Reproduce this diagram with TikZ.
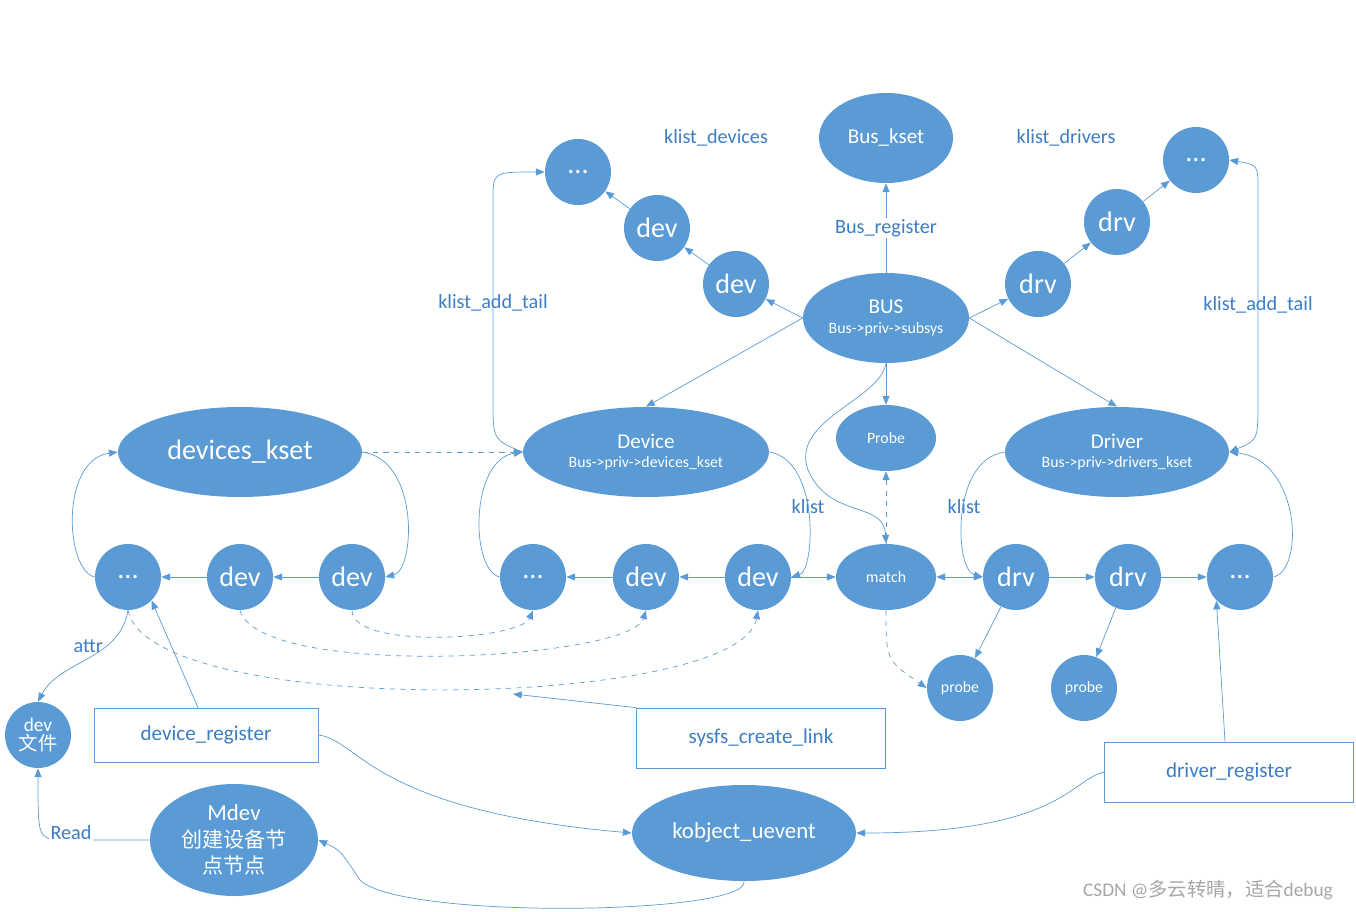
\documentclass[tikz,border=0pt]{standalone}
\usepackage{fontspec}
\setmainfont{Carlito}
\newfontfamily\cjk{Noto Sans CJK SC}
\usetikzlibrary{arrows.meta,shapes.geometric}
\definecolor{bf}{HTML}{5B9BD5}
\definecolor{tx}{HTML}{3C7DC4}
\begin{document}
\begin{tikzpicture}[x=0.02cm,y=-0.02cm,
 el/.style={ellipse,fill=bf,text=white,inner sep=0,align=center},
 ci/.style={circle,fill=bf,text=white,minimum size=66*0.02cm,inner sep=0,font=\fontsize{16}{18}\selectfont},
 bx/.style={draw=bf,text=tx,font=\fontsize{12}{14}\selectfont,inner sep=0},
 lb/.style={text=tx,font=\fontsize{11.5}{13}\selectfont},
 ar/.style={draw=bf,-{Triangle[length=5pt,width=4pt]}},
 ln/.style={draw=bf},
 da/.style={ar,dashed}]
\useasboundingbox (0,0) rectangle (1356,912);
% ellipses
\node[el,minimum width=134*0.02cm,minimum height=90*0.02cm,font=\fontsize{12}{14}\selectfont] (bk) at (886,138) {Bus\_kset};
\node[el,minimum width=166*0.02cm,minimum height=90*0.02cm] (bus) at (886,318) {{\fontsize{12}{14}\selectfont BUS}\\[-1pt]{\fontsize{9}{11}\selectfont Bus->priv->subsys}};
\node[el,minimum width=246*0.02cm,minimum height=90*0.02cm] (devc) at (646,452) {{\fontsize{12}{14}\selectfont Device}\\[-1pt]{\fontsize{9}{11}\selectfont Bus->priv->devices\_kset}};
\node[el,minimum width=224*0.02cm,minimum height=90*0.02cm] (drvr) at (1117,452) {{\fontsize{12}{14}\selectfont Driver}\\[-1pt]{\fontsize{9}{11}\selectfont Bus->priv->drivers\_kset}};
\node[el,minimum width=100*0.02cm,minimum height=66*0.02cm,font=\fontsize{9}{11}\selectfont] (probe) at (886,438) {Probe};
\node[el,minimum width=100*0.02cm,minimum height=66*0.02cm,font=\fontsize{9}{11}\selectfont] (match) at (886,577) {match};
\node[el,minimum width=244*0.02cm,minimum height=90*0.02cm,font=\fontsize{16}{18}\selectfont] (dk) at (240,452) {devices\_kset};
\node[el,minimum width=168*0.02cm,minimum height=112*0.02cm,font=\fontsize{13}{15}\selectfont] (mdev) at (234,840) {Mdev\\{\cjk\fontsize{12}{14}\selectfont 创建设备节}\\{\cjk\fontsize{12}{14}\selectfont 点节点}};
\node[el,minimum width=224*0.02cm,minimum height=96*0.02cm,font=\fontsize{13}{15}\selectfont] (ku) at (744,833) {kobject\_uevent};
% circles
\node[ci] (t1) at (578,172) {...};
\node[ci] (t2) at (657,228) {dev};
\node[ci] (t3) at (736,284) {dev};
\node[ci] (r1) at (1038,284) {drv};
\node[ci] (r2) at (1117,222) {drv};
\node[ci] (r3) at (1196,160) {...};
\node[ci] (a1) at (128,577) {...};
\node[ci] (a2) at (240,577) {dev};
\node[ci] (a3) at (352,577) {dev};
\node[ci] (b1) at (533,577) {...};
\node[ci] (b2) at (646,577) {dev};
\node[ci] (b3) at (758,577) {dev};
\node[ci] (c1) at (1016,577) {drv};
\node[ci] (c2) at (1128,577) {drv};
\node[ci] (c3) at (1240,577) {...};
\node[ci,font=\fontsize{9}{11}\selectfont] (p1) at (960,688) {probe};
\node[ci,font=\fontsize{9}{11}\selectfont] (p2) at (1084,688) {probe};
\node[ci,font=\fontsize{11}{13}\selectfont,align=center] (df) at (38,735) {dev\\[-2pt]{\cjk 文件}};
% boxes
\node[bx,minimum width=224*0.02cm,minimum height=54*0.02cm] (dr) at (206,735) {device\_register};
\node[bx,minimum width=249*0.02cm,minimum height=60*0.02cm] (sl) at (761,738) {sysfs\_create\_link};
\node[bx,minimum width=249*0.02cm,minimum height=60*0.02cm] (vr) at (1229,772) {driver\_register};
% labels
\node[lb] (l1) at (716,138) {klist\_devices};
\node[lb] (l2) at (1066,138) {klist\_drivers};
\node[lb] (l4) at (493,303) {klist\_add\_tail};
\node[lb] (l5) at (1258,305) {klist\_add\_tail};
\node[lb] (l6) at (808,507) {klist};
\node[lb] (l7) at (964,507) {klist};
\node[text=gray!70,font=\fontsize{11}{13}\selectfont] (wm) at (1208,890) {CSDN @{\cjk 多云转晴，适合}debug};
% connectors
\draw[ar] (bus) -- node[fill=white,lb,inner sep=1pt] {Bus\_register} (bk);
\draw[ar] (bus.west) -- (t3);
\draw[ar] (t3) -- (t2);
\draw[ar] (t2) -- (t1);
\draw[ar] (bus.east) -- (r1);
\draw[ar] (r1) -- (r2);
\draw[ar] (r2) -- (r3);
\draw[ar] (bus.west) -- (devc.north);
\draw[ar] (bus.east) -- (drvr.north);
\draw[ar] (bus) -- (probe);
\draw[ar] (bus.south) .. controls (880,400) and (790,420) .. (808,470) .. controls (830,520) and (884,500) .. (match.north);
\draw[da,{Triangle[length=5pt,width=4pt]}-] (probe) -- (match);
\draw[ar] (devc.west) .. controls (493,440) .. (493,400) -- (493,200) .. controls (493,172) .. (t1.west);
\draw[ar,{Triangle[length=5pt,width=4pt]}-{Triangle[length=5pt,width=4pt]}] (drvr.east) .. controls (1258,440) .. (1258,400) -- (1258,190) .. controls (1258,165) .. (r3.east);
\draw[da] (dk.east) -- (devc.west);
\draw[ar] (dk.east) .. controls (420,460) and (415,570) .. (a3.east);
\draw[ar] (a1.west) .. controls (65,570) and (60,460) .. (dk.west);
\draw[ar] (a3) -- (a2);
\draw[ar] (a2) -- (a1);
\draw[ar] (devc.east) .. controls (820,460) and (815,570) .. (b3.east);
\draw[ar] (b1.west) .. controls (470,570) and (470,460) .. (devc.west);
\draw[ar] (b3) -- (b2);
\draw[ar] (b2) -- (b1);
\draw[ar] (b3) -- (match);
\draw[ar,{Triangle[length=5pt,width=4pt]}-{Triangle[length=5pt,width=4pt]}] (match) -- (c1);
\draw[ar] (c1) -- (c2);
\draw[ar] (c2) -- (c3);
\draw[ar] (drvr.west) .. controls (950,460) and (955,570) .. (c1.west);
\draw[ar] (c3.east) .. controls (1305,570) and (1300,460) .. (drvr.east);
\draw[ar] (c1) -- (p1);
\draw[ar] (c2) -- (p2);
\draw[da] (match.south) .. controls (886,660) .. (p1.west);
\draw[da] (a3.south) .. controls (352,650) and (520,640) .. (b1.south);
\draw[da] (a2.south) .. controls (260,680) and (630,660) .. (b2.south);
\draw[da] (a1.south) .. controls (150,720) and (740,710) .. (b3.south);
\coordinate (sa) at (513,694);
\draw[ar] (sl.north west) -- (sa);
\draw[ar] (dr.north) ++(-8,0) -- (a1.south east);
\draw[ar] (vr.north) ++(-4,0) -- (c3.south west);
\draw[ar] (a1.south) .. controls (120,660) and (60,660) .. node[lb,pos=0.5,above] {attr} (df.north);
\draw[ar] (mdev.west) -- (60,840) .. controls (38,838) .. (df.south);
\node[lb,fill=white,inner sep=1pt] at (71,833) {Read};
\draw[ar] (dr.east) .. controls (360,740) and (370,810) .. (ku.west);
\draw[ar] (vr.west) .. controls (1070,780) and (1060,833) .. (ku.east);
\draw[ar] (ku.south) .. controls (750,915) and (400,920) .. (360,880) .. controls (340,850) .. (mdev.east);
\end{tikzpicture}
\end{document}
